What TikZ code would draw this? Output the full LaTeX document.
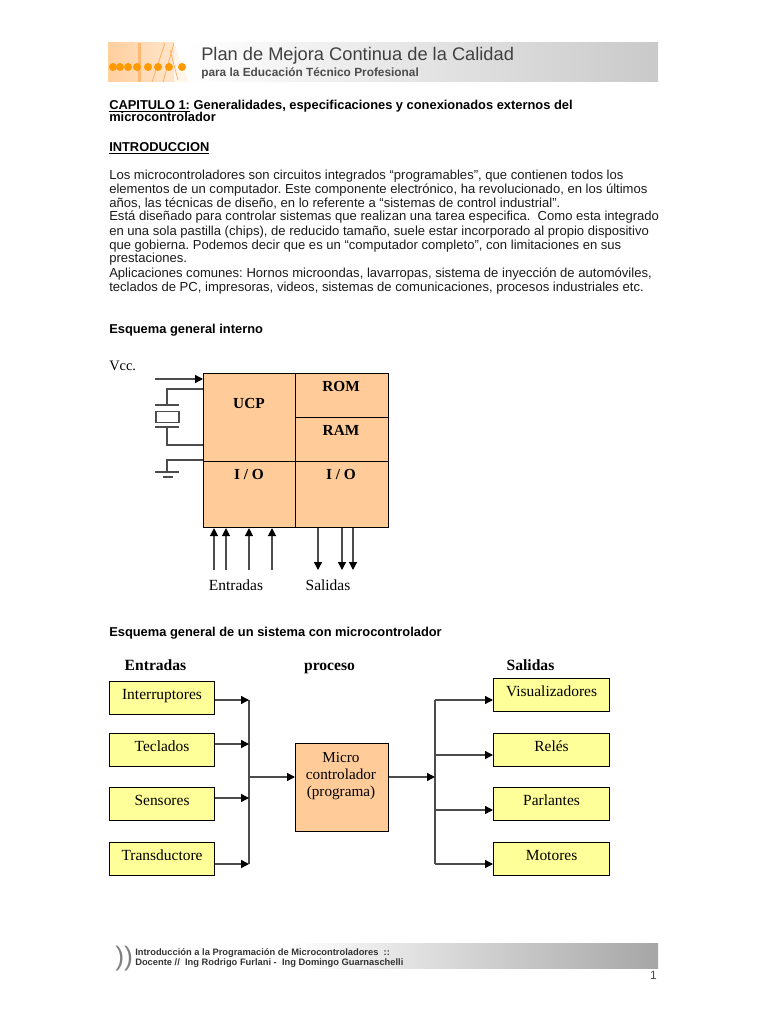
\documentclass[tikz,border=0pt]{standalone}
\usepackage{fontspec}
\setmainfont{Liberation Sans}
\newfontfamily\serifdia{Liberation Serif}
\usepackage{xcolor}
\usetikzlibrary{arrows.meta,calc}
\definecolor{peach}{HTML}{FFCC99}
\definecolor{pale}{HTML}{FFFF99}
\definecolor{ink}{HTML}{1A1A1A}
\newcommand{\fs}[1]{\fontsize{#1}{#1}\selectfont}
\tikzset{
    bodyline/.style={anchor=base west,inner sep=0pt,text=ink,font=\frenchspacing\fs{9.8}},
    headline/.style={anchor=base west,inner sep=0pt,text=black,font=\frenchspacing\fs{9.65}\bfseries},
    cell/.style={draw=black,fill=peach,line width=0.8pt,inner sep=0pt,anchor=north west},
    celltext/.style={inner sep=0pt,font=\serifdia\fs{11.5}\bfseries},
    plaintext/.style={inner sep=0pt,font=\serifdia\fs{11.6}},
    coltext/.style={inner sep=0pt,anchor=base,font=\serifdia\fs{11.7}\bfseries},
    yellowbox/.style={draw=black,fill=pale,line width=0.8pt,inner sep=0pt,anchor=north west,
        font=\serifdia\fs{11.6},minimum height=24.75pt,text height=8pt,text depth=6.5pt},
    wire/.style={line width=1pt,draw=black!70},
    arrow/.style={wire,-{Triangle[length=6pt,width=6pt,color=black]}},
}
\begin{document}
\begin{tikzpicture}[x=0.75pt,y=-0.75pt,>=Stealth]
    \useasboundingbox (0,0) rectangle (768,1024);
    % page header
    \begin{scope}
        \shade[left color=white,right color=black!21] (185,43) rectangle (658,82);
        \fill[orange!8] (174,43) -- (189,82) -- (160,82) -- cycle;
        \shade[left color=orange!38,right color=orange!20] (108,43) rectangle (174,82);
        \fill[orange!55] (138,43) rectangle (141,82);
        \draw[orange!60,line width=0.6pt] (152,82)--(165,43) (163,82)--(174,43) (170,50)--(178,80);
        \foreach \x in {113,120,128,137,148,158,169,182}{
            \fill[orange!80!yellow] (\x,67) circle (4);
        }
        \node[anchor=base west,inner sep=0pt,text=black!75,font=\fs{13.7}] (title) at (201,61) {Plan de Mejora Continua de la Calidad};
        \node[anchor=base west,inner sep=0pt,text=black!70,font=\fs{8.9}\bfseries] (subtitle) at (201,76) {para la Educación Técnico Profesional};
    \end{scope}
    % text of the page
    \node[headline] (cap) at (109,109) {\underline{CAPITULO 1:} Generalidades, especificaciones y conexionados externos del};
    \node[headline] (capb) at (109,122) {microcontrolador};
    \node[headline] (intro) at (109,151) {\underline{INTRODUCCION}};
    \foreach \y/\lab in {
        179/{Los microcontroladores son circuitos integrados “programables”, que contienen todos los},
        193/{elementos de un computador. Este componente electrónico, ha revolucionado, en los últimos},
        207/{años, las técnicas de diseño, en lo referente a “sistemas de control industrial”.},
        220/{Está diseñado para controlar sistemas que realizan una tarea especifica.\ \ Como esta integrado},
        235/{en una sola pastilla (chips), de reducido tamaño, suele estar incorporado al propio dispositivo},
        249/{que gobierna. Podemos decir que es un “computador completo”, con limitaciones en sus},
        262/{prestaciones.},
        277/{Aplicaciones comunes: Hornos microondas, lavarropas, sistema de inyección de automóviles,},
        291/{teclados de PC, impresoras, videos, sistemas de comunicaciones, procesos industriales etc.}}{
        \node[bodyline] (line\y) at (109,\y) {\lab};
    }
    \node[headline] (esqa) at (109,333) {Esquema general interno};
    \node[headline] (esqb) at (109,636) {Esquema general de un sistema con microcontrolador};
    % internal diagram
    \node[plaintext,anchor=base west,font=\serifdia\fs{10.8}] (vcclab) at (109,370) {Vcc.};
    \node[cell,minimum width=69pt,minimum height=66pt] (ucp) at (203,373) {};
    \node[cell,minimum width=69.75pt,minimum height=33pt] (rom) at (295,373) {};
    \node[cell,minimum width=69.75pt,minimum height=33pt] (ram) at (295,417) {};
    \node[cell,minimum width=69pt,minimum height=49.5pt] (iol) at (203,461) {};
    \node[cell,minimum width=69.75pt,minimum height=49.5pt] (ior) at (295,461) {};
    \node[celltext] (ucptxt) at (249,403) {UCP};
    \node[celltext] (romtxt) at (341,386) {ROM};
    \node[celltext] (ramtxt) at (341,430) {RAM};
    \node[celltext] (ioltxt) at (249,474) {I / O};
    \node[celltext] (iortxt) at (341,474) {I / O};
    \coordinate (vcc) at (155,379);
    \draw[arrow] (vcc) -- (vcc -| ucp.west);
    % crystal
    \node[draw=black!70,line width=1pt,minimum width=17.25pt,minimum height=8.25pt,inner sep=0pt] (xtal) at (167.5,417) {};
    \coordinate (xa) at (167,389);
    \coordinate (xb) at (167,445);
    \coordinate (gnd) at (167,460);
    \draw[wire] (xa -| ucp.west) -- (xa) -- (167,405);
    \draw[wire] (155,405) -- (179,405);
    \draw[wire] (155,427) -- (179,427);
    \draw[wire] (xb -| ucp.west) -- (xb) -- (167,427);
    \draw[wire] (gnd -| ucp.west) -- (gnd) -- (167,472);
    \draw[wire] (155,472) -- (179,472);
    \draw[wire] (163,477) -- (173,477);
    \foreach \x in {214,226,249,272}{
        \coordinate (in\x) at (\x,570);
        \draw[arrow] (in\x) -- (in\x |- iol.south);
    }
    \foreach \x in {318,342,353}{
        \coordinate (out\x) at (\x,570);
        \draw[arrow] (out\x |- ior.south) -- (out\x);
    }
    \node[plaintext] (entlab) at (236,585) {Entradas};
    \node[plaintext] (sallab) at (328,585) {Salidas};
    % system diagram
    \node[coltext] (colin) at (155.5,670) {Entradas};
    \node[coltext] (colpro) at (329.5,670) {proceso};
    \node[coltext] (colout) at (530.5,670) {Salidas};
    \foreach \y/\nm/\lab in {681/inter/Interruptores,733/tecl/Teclados,787/sens/Sensores,842/trans/Transductore}{
        \node[yellowbox,minimum width=78.75pt] (\nm) at (109,\y) {\lab};
    }
    \foreach \y/\nm/\lab in {678/visu/Visualizadores,733/rele/Relés,787/parl/Parlantes,842/moto/Motores}{
        \node[yellowbox,minimum width=87pt] (\nm) at (493,\y) {\lab};
    }
    \node[cell,minimum width=69.75pt,minimum height=66pt] (micro) at (295,743) {};
    \node[plaintext,align=center,font=\serifdia\fontsize{11.4}{12.6}\selectfont] (microtxt) at (341,776) {Micro\\controlador\\(programa)};
    \coordinate (ba) at (249,700);
    \coordinate (bb) at (249,744);
    \coordinate (bc) at (249,798);
    \coordinate (bd) at (249,864);
    \coordinate (bm) at (249,777);
    \coordinate (ca) at (435,700);
    \coordinate (cb) at (435,755);
    \coordinate (cc) at (435,810);
    \coordinate (cd) at (435,864);
    \coordinate (cm) at (435,777);
    \draw[wire] (ba) -- (bd);
    \draw[wire] (ca) -- (cd);
    \foreach \bus/\nm in {ba/inter,bb/tecl,bc/sens,bd/trans}{
        \draw[arrow] (\nm.east |- \bus) -- (\bus);
    }
    \foreach \bus/\nm in {ca/visu,cb/rele,cc/parl,cd/moto}{
        \draw[arrow] (\bus) -- (\nm.west |- \bus);
    }
    \draw[arrow] (bm) -- (bm -| micro.west);
    \draw[arrow] (micro.east |- cm) -- (cm);
    % page footer
    \begin{scope}
        \shade[left color=white,right color=black!35] (290,943) rectangle (658,968);
        \node[anchor=base west,inner sep=0pt,text=black!50,font=\fs{20}] (marks) at (115,965) {))};
        \node[anchor=base west,inner sep=0pt,text=black!80,font=\frenchspacing\fs{7}\bfseries] (foota) at (135,955) {Introducción a la Programación de Microcontroladores\ \ ::};
        \node[anchor=base west,inner sep=0pt,text=black!80,font=\frenchspacing\fs{7}\bfseries] (footb) at (135,965) {Docente //\ \ Ing Rodrigo Furlani -\ \ Ing Domingo Guarnaschelli};
        \node[anchor=base east,inner sep=0pt,text=black!70,font=\fs{9}] (pagenum) at (657,979) {1};
    \end{scope}
\end{tikzpicture}
\end{document}
